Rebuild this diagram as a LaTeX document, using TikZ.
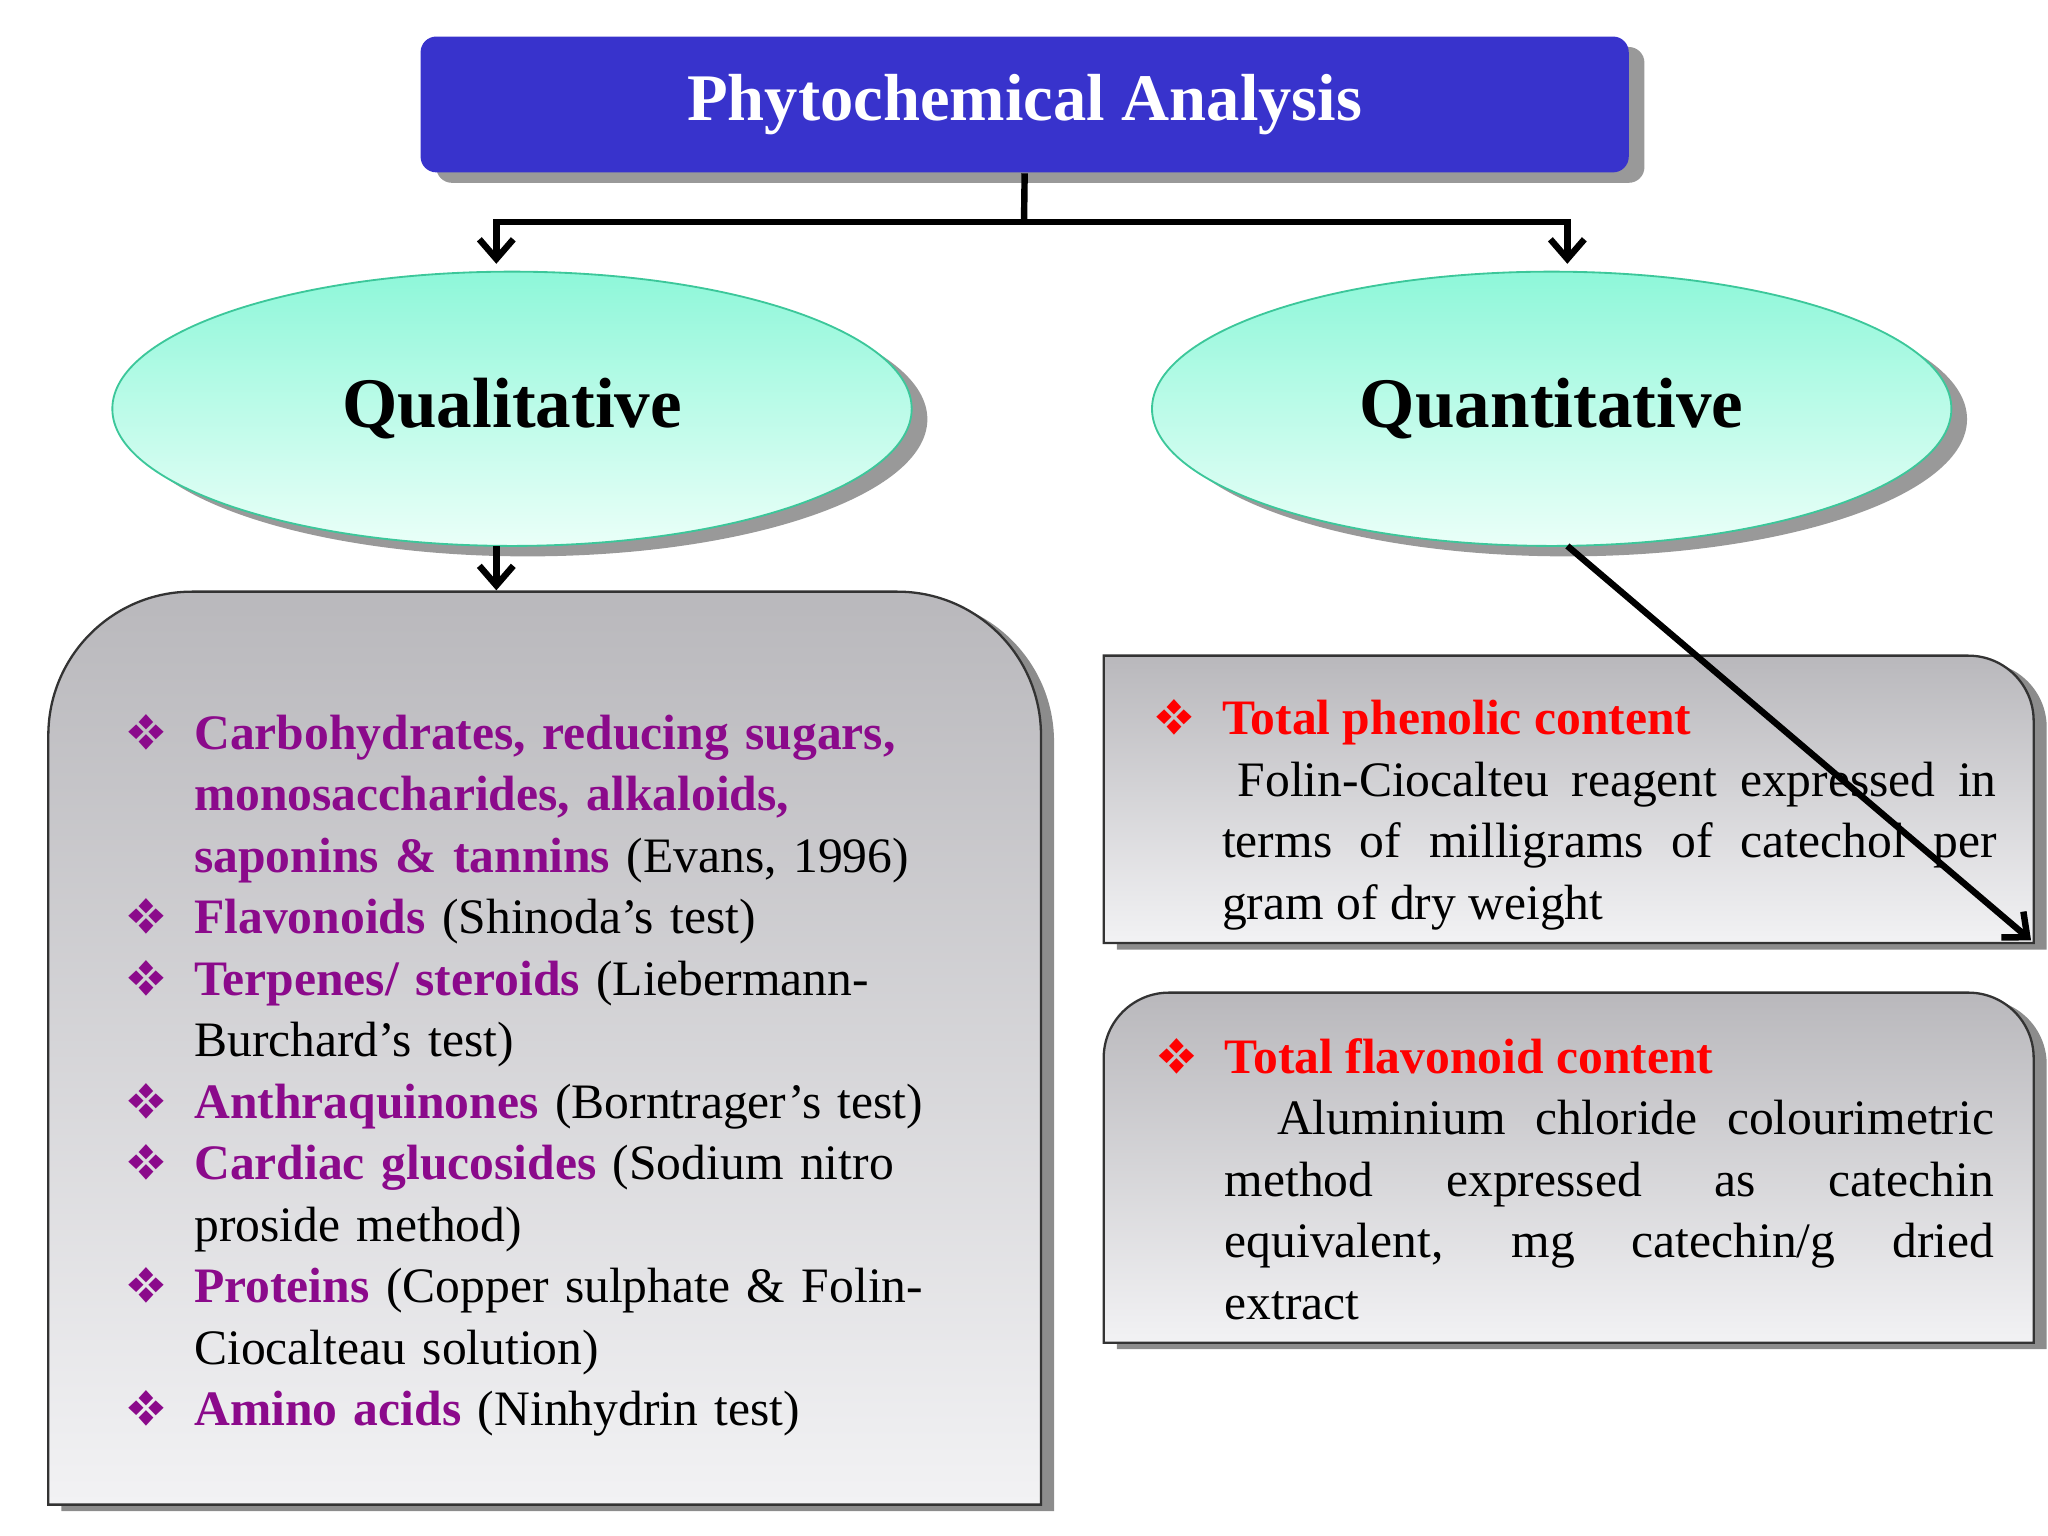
\documentclass[tikz,border=0pt]{standalone}
\usepackage{fontspec}
\setmainfont{Liberation Serif}
\usepackage{pifont}
\usetikzlibrary{positioning,shapes.geometric,shadows,arrows.meta}
\definecolor{titleblue}{HTML}{3833CC}
\definecolor{aqua}{HTML}{8EF7D9}
\definecolor{aqualight}{HTML}{EAFFF8}
\definecolor{aquaedge}{HTML}{3CC79A}
\definecolor{itempurple}{HTML}{8B0A8B}
\definecolor{boxgray}{HTML}{B9B8BC}
\definecolor{boxlight}{HTML}{F2F2F4}
\newcommand{\bul}[1]{\leavevmode\llap{\textcolor{#1}{\ding{118}}\hspace{0.22cm}}}
\newcommand{\body}{\fontsize{10.8}{13.4}\selectfont\hyphenpenalty=10000\exhyphenpenalty=10000}
\tikzset{
  shade box/.style={top color=boxgray,bottom color=boxlight,draw=black!80,line width=0.5pt,
    drop shadow={shadow xshift=0.1cm,shadow yshift=-0.05cm,fill=black!45,opacity=1}},
  oval/.style={ellipse,minimum width=6.12cm,minimum height=2.1cm,top color=aqua,bottom color=aqualight,
    draw=aquaedge,font=\fontsize{15.5}{18}\selectfont\bfseries,
    drop shadow={shadow xshift=0.12cm,shadow yshift=-0.08cm,fill=black!40,opacity=1}},
  link/.style={line width=1.4pt,-{Straight Barb[length=1.5mm,width=2.6mm]}},
}
\begin{document}
\begin{tikzpicture}
\useasboundingbox (0,0) rectangle (15.68,11.76);
% title
\node[fill=titleblue,rounded corners=0.12cm,minimum width=9.25cm,minimum height=1.04cm,
  text=white,font=\fontsize{14.5}{17}\selectfont\bfseries,
  drop shadow={shadow xshift=0.12cm,shadow yshift=-0.08cm,fill=black!40,opacity=1}]
  (title) at (7.845,10.96) {Phytochemical Analysis};
\node[oval] (qual) at (3.92,8.63) {Qualitative};
\node[oval] (quant) at (11.88,8.63) {Quantitative};
\coordinate (split) at (7.84,10.06);
\draw[line width=1.4pt] (title.south) -- (split);
\draw[link] (split) -| ([yshift=0.03cm]3.80,9.71);
\draw[link] (split) -| ([yshift=0.03cm]12.00,9.71);
% boxes
\draw[shade box] (0.37,0.24) [rounded corners=1.1cm] -- (0.37,7.23) -- (7.97,7.23) [sharp corners] -- (7.97,0.24) -- cycle;
\coordinate (qualbox) at (3.80,7.24);
\draw[link] (3.80,7.58) -- (qualbox);
\draw[shade box] (8.45,4.54) -- (8.45,6.74) [rounded corners=0.5cm] -- (15.57,6.74) [sharp corners] -- (15.57,4.54) -- cycle;
\draw[shade box] (8.45,1.48) [rounded corners=0.5cm] -- (8.45,4.16) -- (15.57,4.16) [sharp corners] -- (15.57,1.48) -- cycle;
% qualitative list
\node[anchor=north west,inner sep=0pt,text width=5.9cm,align=left,font=\body] (list) at (1.48,6.30) {%
  \bul{itempurple}\textcolor{itempurple}{\textbf{Carbohydrates, reducing sugars,}}\\\textcolor{itempurple}{\textbf{monosaccharides, alkaloids,}}\\\textcolor{itempurple}{\textbf{saponins \& tannins}} (Evans, 1996)\\
  \bul{itempurple}\textcolor{itempurple}{\textbf{Flavonoids}} (Shinoda’s test)\\
  \bul{itempurple}\textcolor{itempurple}{\textbf{Terpenes/ steroids}} (Liebermann-\\Burchard’s test)\\
  \bul{itempurple}\textcolor{itempurple}{\textbf{Anthraquinones}} (Borntrager’s test)\\
  \bul{itempurple}\textcolor{itempurple}{\textbf{Cardiac glucosides}} (Sodium nitro\\proside method)\\
  \bul{itempurple}\textcolor{itempurple}{\textbf{Proteins}} (Copper sulphate \& Folin-\\Ciocalteau solution)\\
  \bul{itempurple}\textcolor{itempurple}{\textbf{Amino acids}} (Ninhydrin test)};
% quantitative text
\node[anchor=north west,inner sep=0pt,text width=5.93cm,align=justify,font=\body] (phenol) at (9.35,6.41) {%
  \bul{red}\textcolor{red}{\textbf{Total phenolic content}}\\
  \hspace*{0.12cm}Folin-Ciocalteu reagent expressed in terms of milligrams of catechol per gram of dry weight};
\node[anchor=north west,inner sep=0pt,text width=5.89cm,align=justify,font=\body] (flavo) at (9.37,3.82) {%
  \bul{red}\textcolor{red}{\textbf{Total flavonoid content}}\\
  \hspace*{0.4cm}Aluminium chloride colourimetric\linebreak method expressed as catechin\linebreak equivalent, mg catechin/g dried\linebreak extract};
\coordinate (phenolend) at (15.55,4.56);
\draw[link] (12.00,7.58) -- (phenolend);
\end{tikzpicture}
\end{document}
